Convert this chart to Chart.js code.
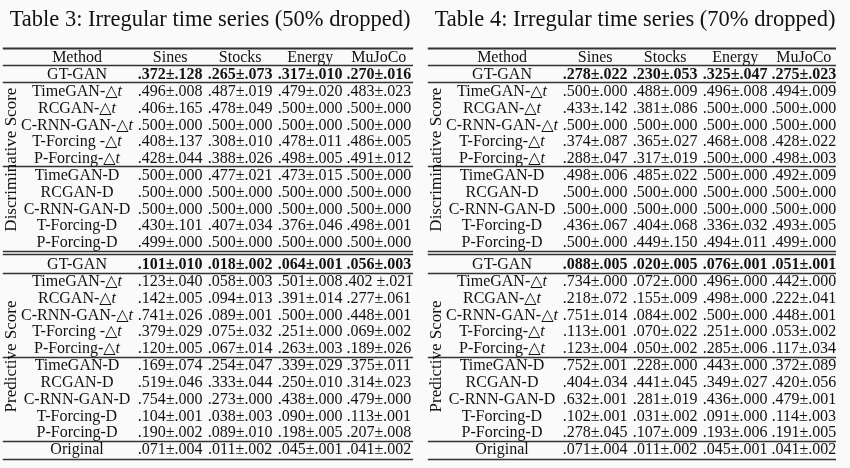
<!DOCTYPE html>
<html><head><meta charset="utf-8">
<script src="https://cdn.jsdelivr.net/npm/chart.js@4"></script>
<style>body{margin:0;background:#fafafa;}#w{display:flex;width:850px;height:468px;}canvas{display:block;}</style>
</head><body><div id="w"><div style="width:425px;height:468px"><canvas id="c1"></canvas></div><div style="width:425px;height:468px"><canvas id="c2"></canvas></div></div>
<script>
const titles = ["Table 3: Irregular time series (50% dropped)", "Table 4: Irregular time series (70% dropped)"];
const columns = ["Method", "Sines", "Stocks", "Energy", "MuJoCo"];
const methods = ["GT-GAN","TimeGAN-△t","RCGAN-△t","C-RNN-GAN-△t","T-Forcing -△t","P-Forcing-△t","TimeGAN-D","RCGAN-D","C-RNN-GAN-D","T-Forcing-D","P-Forcing-D"];
const methods70 = ["GT-GAN","TimeGAN-△t","RCGAN-△t","C-RNN-GAN-△t","T-Forcing-△t","P-Forcing-△t","TimeGAN-D","RCGAN-D","C-RNN-GAN-D","T-Forcing-D","P-Forcing-D"];
const disc50 = [
[".372±.128",".265±.073",".317±.010",".270±.016"],
[".496±.008",".487±.019",".479±.020",".483±.023"],
[".406±.165",".478±.049",".500±.000",".500±.000"],
[".500±.000",".500±.000",".500±.000",".500±.000"],
[".408±.137",".308±.010",".478±.011",".486±.005"],
[".428±.044",".388±.026",".498±.005",".491±.012"],
[".500±.000",".477±.021",".473±.015",".500±.000"],
[".500±.000",".500±.000",".500±.000",".500±.000"],
[".500±.000",".500±.000",".500±.000",".500±.000"],
[".430±.101",".407±.034",".376±.046",".498±.001"],
[".499±.000",".500±.000",".500±.000",".500±.000"]];
const pred50 = [
[".101±.010",".018±.002",".064±.001",".056±.003"],
[".123±.040",".058±.003",".501±.008",".402 ±.021"],
[".142±.005",".094±.013",".391±.014",".277±.061"],
[".741±.026",".089±.001",".500±.000",".448±.001"],
[".379±.029",".075±.032",".251±.000",".069±.002"],
[".120±.005",".067±.014",".263±.003",".189±.026"],
[".169±.074",".254±.047",".339±.029",".375±.011"],
[".519±.046",".333±.044",".250±.010",".314±.023"],
[".754±.000",".273±.000",".438±.000",".479±.000"],
[".104±.001",".038±.003",".090±.000",".113±.001"],
[".190±.002",".089±.010",".198±.005",".207±.008"]];
const disc70 = [
[".278±.022",".230±.053",".325±.047",".275±.023"],
[".500±.000",".488±.009",".496±.008",".494±.009"],
[".433±.142",".381±.086",".500±.000",".500±.000"],
[".500±.000",".500±.000",".500±.000",".500±.000"],
[".374±.087",".365±.027",".468±.008",".428±.022"],
[".288±.047",".317±.019",".500±.000",".498±.003"],
[".498±.006",".485±.022",".500±.000",".492±.009"],
[".500±.000",".500±.000",".500±.000",".500±.000"],
[".500±.000",".500±.000",".500±.000",".500±.000"],
[".436±.067",".404±.068",".336±.032",".493±.005"],
[".500±.000",".449±.150",".494±.011",".499±.000"]];
const pred70 = [
[".088±.005",".020±.005",".076±.001",".051±.001"],
[".734±.000",".072±.000",".496±.000",".442±.000"],
[".218±.072",".155±.009",".498±.000",".222±.041"],
[".751±.014",".084±.002",".500±.000",".448±.001"],
[".113±.001",".070±.022",".251±.000",".053±.002"],
[".123±.004",".050±.002",".285±.006",".117±.034"],
[".752±.001",".228±.000",".443±.000",".372±.089"],
[".404±.034",".441±.045",".349±.027",".420±.056"],
[".632±.001",".281±.019",".436±.000",".479±.001"],
[".102±.001",".031±.002",".091±.000",".114±.003"],
[".278±.045",".107±.009",".193±.006",".191±.005"]];
const original = [".071±.004",".011±.002",".045±.001",".041±.002"];
const groupLabels = ["Discriminative Score", "Predictive Score"];

const SERIF = '"Liberation Serif","DejaVu Serif",serif';
const FS = '16px ';
function rowY(i){ return i >= 12 ? i + 0.3 : i; }

function makeTable(id, title, mlist, disc, pred, xmax){
  const rows = [];
  rows.push({r:0, cells:columns, header:true});
  mlist.forEach((m,i)=>rows.push({r:rowY(1+i), cells:[m, ...disc[i]], bold:i===0}));
  mlist.forEach((m,i)=>rows.push({r:rowY(12+i), cells:[m, ...pred[i]], bold:i===0}));
  rows.push({r:rowY(23), cells:["Original", ...original]});
  const colX = [-0.33, 1, 2, 3, 3.98];
  const hlines = [[-0.54,2],[0.5,1.3],[1.5,1.3],[6.5,1.3],[11.53,1.3],[11.71,1.3],[12.84,1.3],[17.84,1.3],[22.83,1.3],[23.9,1.5]];
  const plugin = {id:'tbl', afterDraw(chart){
    const ctx = chart.ctx, xs = chart.scales.x, ys = chart.scales.y;
    ctx.save();
    ctx.fillStyle = '#fafafa'; ctx.fillRect(0,0,chart.width,chart.height);
    ctx.fillStyle = '#111'; ctx.textBaseline = 'middle'; ctx.textAlign='center';
    ctx.font = '22.5px ' + SERIF;
    ctx.fillText(title, xs.getPixelForValue(1.57), ys.getPixelForValue(-2.2));
    ctx.strokeStyle = '#333';
    hlines.forEach(([r,w])=>{ ctx.lineWidth=w; ctx.beginPath();
      const y = Math.round(ys.getPixelForValue(r))+0.5;
      ctx.moveTo(xs.getPixelForValue(-1.39), y); ctx.lineTo(xs.getPixelForValue(xmax), y); ctx.stroke(); });
    rows.forEach(row=>{
      const y = ys.getPixelForValue(row.r)+1;
      row.cells.forEach((t,c)=>{
        const x = xs.getPixelForValue(colX[c]);
        const fw = (row.bold && c>0) ? 'bold ' : '';
        ctx.font = fw + FS + SERIF;
        if (c===0 && t.includes('△t')) {
          const base = t.replace('△t','');
          ctx.font = FS + SERIF;
          const w1 = ctx.measureText(base+'△').width;
          ctx.font = 'italic ' + FS + SERIF;
          const w2 = ctx.measureText('t').width;
          let x0 = x - (w1+w2)/2;
          ctx.textAlign='left';
          ctx.font = FS + SERIF; ctx.fillText(base+'△', x0, y);
          ctx.font = 'italic ' + FS + SERIF; ctx.fillText('t', x0+w1, y);
          ctx.textAlign='center';
        } else ctx.fillText(t, x, y);
      });
    });
    ctx.font = '17px ' + SERIF;
    [[groupLabels[0],6.1],[groupLabels[1],17.8]].forEach(([t,r])=>{
      ctx.save(); ctx.translate(xs.getPixelForValue(-1.27), ys.getPixelForValue(r)); ctx.rotate(-Math.PI/2);
      ctx.fillText(t,0,0); ctx.restore(); });
    ctx.restore();
  }};
  new Chart(document.getElementById(id), {
    type:'scatter', data:{datasets:[{data:[]}]},
    options:{responsive:true, maintainAspectRatio:false, animation:false,
      layout:{padding:0},
      plugins:{legend:{display:false}, tooltip:{enabled:false}},
      scales:{x:{type:'linear', display:false, min:-1.43, max:4.64},
              y:{type:'linear', display:false, reverse:true, min:-3.39, max:24.43}}},
    plugins:[plugin]});
}
makeTable('c1', titles[0], methods, disc50, pred50, 4.47);
makeTable('c2', titles[1], methods70, disc70, pred70, 4.44);
</script></body></html>
